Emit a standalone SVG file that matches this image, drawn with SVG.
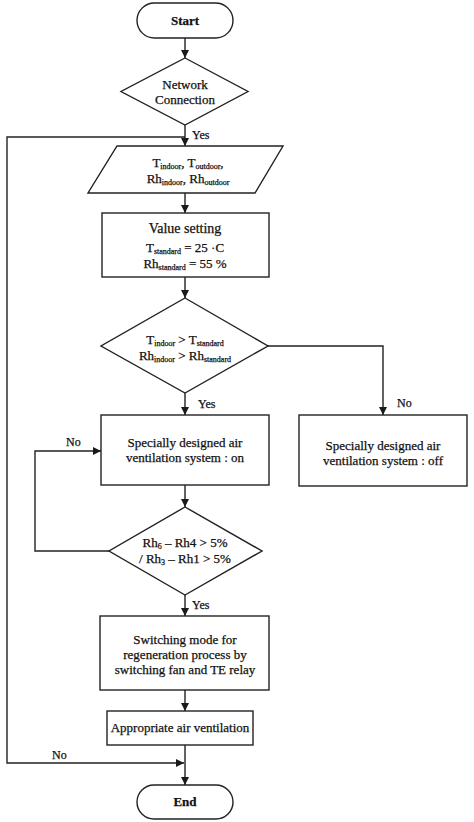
<svg xmlns="http://www.w3.org/2000/svg" width="474" height="822" viewBox="0 0 474 822">
<defs>
<marker id="ah" viewBox="0 0 10 10" refX="10" refY="5" markerWidth="8" markerHeight="8" markerUnits="userSpaceOnUse" orient="auto">
<path d="M0,0 L10,5 L0,10 z" fill="#1a1a1a"/>
</marker>
<style>
.s{fill:#fff;stroke:#222;stroke-width:1.4}
.c{fill:none;stroke:#222;stroke-width:1.4}
text{font-family:"Liberation Serif","Times New Roman",serif;font-size:13px;fill:#111;stroke:#111;stroke-width:0.25;text-anchor:middle}
.b{font-weight:bold}
.l{text-anchor:start;font-size:12px}
.sb{font-size:8px}
</style>
</defs>
<rect width="474" height="822" fill="#fff"/>
<g id="connectors">
<line class="c" x1="185" y1="38" x2="185" y2="58" marker-end="url(#ah)"/>
<line class="c" x1="185" y1="125" x2="185" y2="146" marker-end="url(#ah)"/>
<line class="c" x1="185" y1="193" x2="185" y2="213" marker-end="url(#ah)"/>
<line class="c" x1="185" y1="277" x2="185" y2="298" marker-end="url(#ah)"/>
<polyline class="c" points="268,346 383,346 383,415" marker-end="url(#ah)"/>
<line class="c" x1="185" y1="393" x2="185" y2="415" marker-end="url(#ah)"/>
<line class="c" x1="185" y1="485" x2="185" y2="507" marker-end="url(#ah)"/>
<polyline class="c" points="109,551 35,551 35,451 101,451" marker-end="url(#ah)"/>
<line class="c" x1="185" y1="595" x2="185" y2="616" marker-end="url(#ah)"/>
<line class="c" x1="185" y1="690" x2="185" y2="711" marker-end="url(#ah)"/>
<line class="c" x1="185" y1="745" x2="185" y2="785" marker-end="url(#ah)"/>
<polyline class="c" points="185,137 7,137 7,763 184,763" marker-end="url(#ah)"/>
<text class="l" x="192" y="139">Yes</text>
<text class="l" x="198" y="408">Yes</text>
<text class="l" x="397" y="407">No</text>
<text class="l" x="66" y="446">No</text>
<text class="l" x="192" y="609">Yes</text>
<text class="l" x="52" y="759">No</text>
</g>
<g id="start">
<rect class="s" x="137" y="3" width="96" height="35" rx="17.5"/>
<text class="b" x="185" y="25">Start</text>
</g>
<g id="network">
<polygon class="s" points="185,58 248,91.5 185,125 121,91.5"/>
<text x="185" y="89">Network</text>
<text x="185" y="104">Connection</text>
</g>
<g id="input">
<polygon class="s" points="117,146 283,146 255,193 88,193"/>
<text x="188" y="167">T<tspan class="sb" dy="2">indoor</tspan><tspan dy="-2">, T</tspan><tspan class="sb" dy="2">outdoor</tspan><tspan dy="-2">,</tspan></text>
<text x="188" y="183">Rh<tspan class="sb" dy="2">indoor</tspan><tspan dy="-2">, Rh</tspan><tspan class="sb" dy="2">outdoor</tspan></text>
</g>
<g id="value">
<rect class="s" x="102" y="213" width="167" height="64"/>
<text x="185" y="233" style="font-size:14px">Value setting</text>
<text x="185" y="252">T<tspan class="sb" dy="2">standard</tspan><tspan dy="-2"> = 25 ·C</tspan></text>
<text x="185" y="268">Rh<tspan class="sb" dy="2">standard</tspan><tspan dy="-2"> = 55 %</tspan></text>
</g>
<g id="cond1">
<polygon class="s" points="185,298 268,346 185,393 101,346"/>
<text x="185" y="344">T<tspan class="sb" dy="2">indoor</tspan><tspan dy="-2"> &gt; T</tspan><tspan class="sb" dy="2">standard</tspan></text>
<text x="185" y="360">Rh<tspan class="sb" dy="2">indoor</tspan><tspan dy="-2"> &gt; Rh</tspan><tspan class="sb" dy="2">standard</tspan></text>
</g>
<g id="off">
<rect class="s" x="299" y="415" width="168" height="71"/>
<text x="383" y="450">Specially designed  air</text>
<text x="383" y="465">ventilation system : off</text>
</g>
<g id="on">
<rect class="s" x="101" y="415" width="168" height="70"/>
<text x="185" y="447">Specially designed  air</text>
<text x="185" y="462">ventilation system : on</text>
</g>
<g id="cond2">
<polygon class="s" points="185,507 262,551 185,595 109,551"/>
<text x="185" y="547">Rh<tspan class="sb" dy="1.5">6</tspan><tspan dy="-1.5"> – Rh4 &gt; 5%</tspan></text>
<text x="185" y="563">/ Rh<tspan class="sb" dy="1.5">3</tspan><tspan dy="-1.5"> – Rh1 &gt; 5%</tspan></text>
</g>
<g id="switching">
<rect class="s" x="100" y="616" width="169" height="74"/>
<text x="185" y="644">Switching mode for</text>
<text x="185" y="659">regeneration process by</text>
<text x="185" y="674">switching fan and TE relay</text>
</g>
<g id="appropriate">
<rect class="s" x="107" y="711" width="146" height="34"/>
<text x="180" y="732">Appropriate  air ventilation</text>
</g>
<g id="end">
<rect class="s" x="137" y="785" width="96" height="34" rx="17"/>
<text class="b" x="185" y="806">End</text>
</g>
</svg>
